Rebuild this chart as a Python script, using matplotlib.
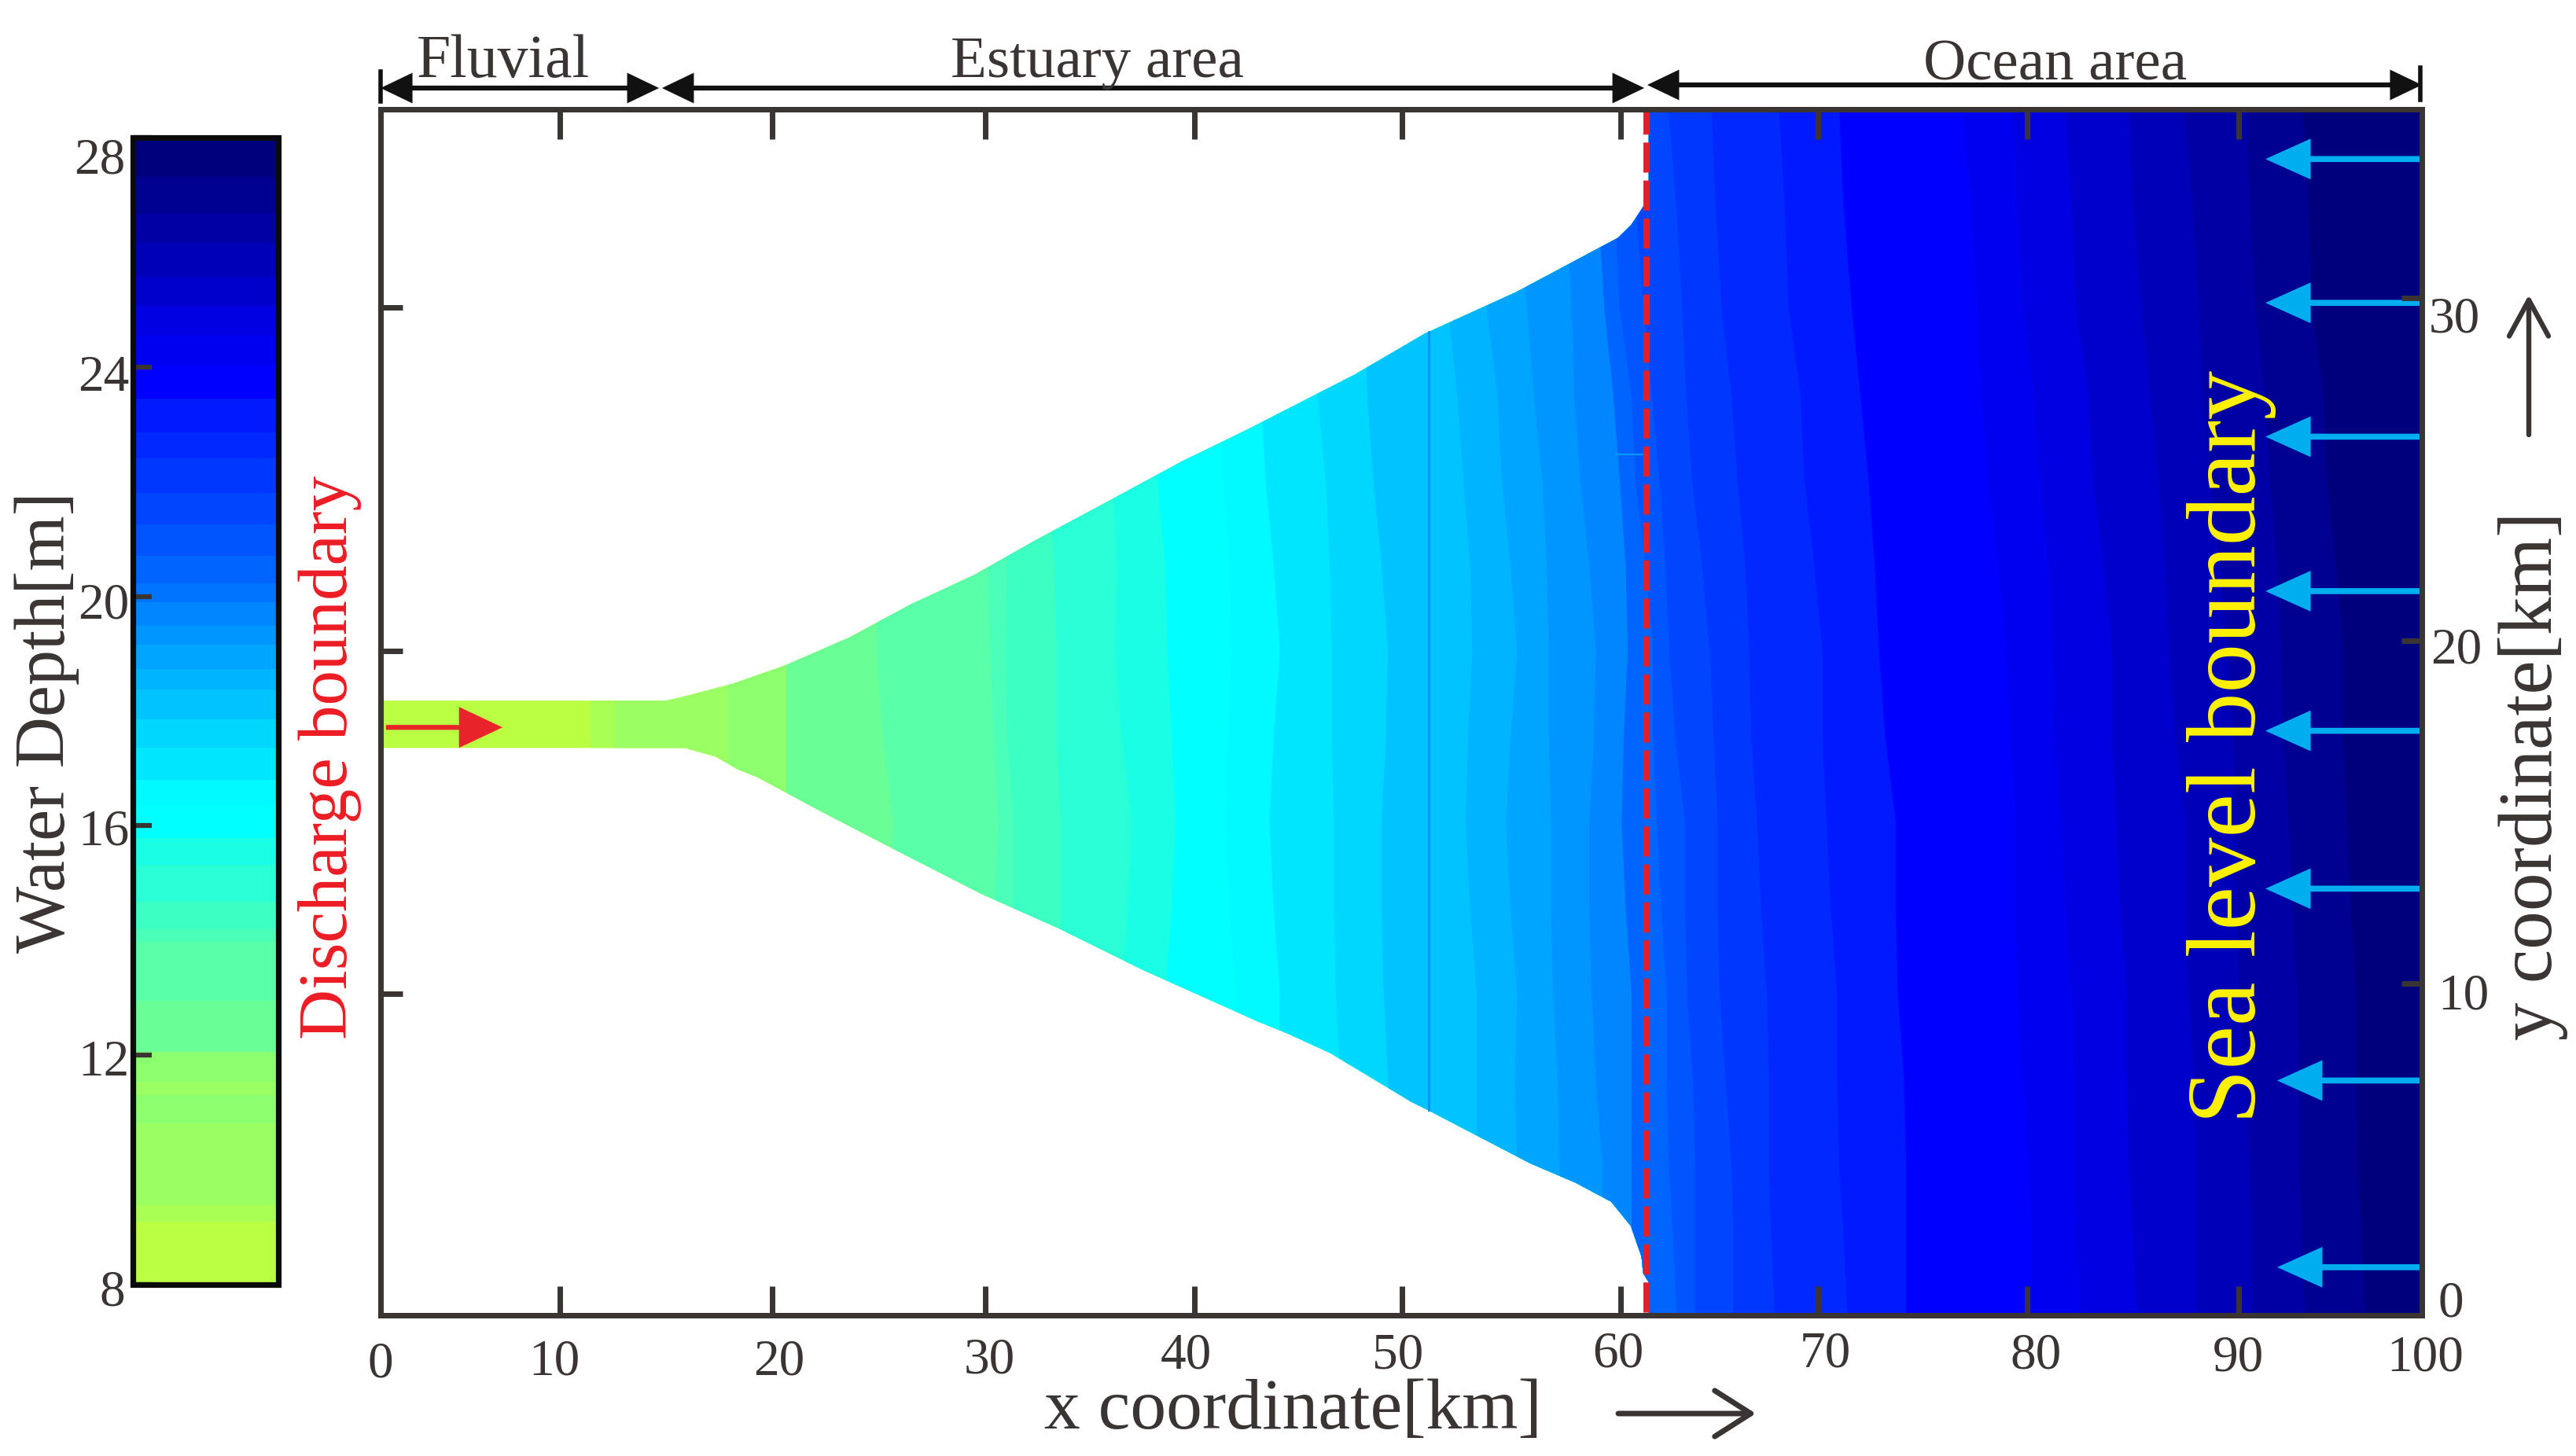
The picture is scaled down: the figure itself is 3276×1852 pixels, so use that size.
import numpy as np
import matplotlib
matplotlib.use("Agg")
import matplotlib.pyplot as plt
from matplotlib.colors import ListedColormap, BoundaryNorm
from matplotlib.cm import ScalarMappable
from matplotlib.patches import Polygon, FancyArrowPatch
from matplotlib.transforms import Affine2D

plt.rcParams['font.family'] = ['Liberation Serif', 'DejaVu Serif']

# ---- colour scale ----
depth_levels = [8, 9.12, 9.41, 10.84, 11.33, 11.57, 12.08, 12.97, 14.01, 14.22, 14.71, 15.35, 15.81,
                16.37, 16.83, 17.39, 17.88, 18.41, 18.76, 19.19, 19.52, 19.93, 20.25, 20.73, 21.28,
                21.83, 22.44, 22.89, 23.48, 24.05, 24.57, 25.1, 25.6, 26.18, 26.7, 27.34, 28]
level_colors = ['#BAFF42', '#AAFF55', '#9BFF64', '#8CFF6E', '#9BFF64', '#8CFF6E', '#69FF96', '#5AFFAA',
                '#4BFFB9', '#3CFFC3', '#28FFD7', '#19FFE6', '#00FFFF', '#00FAFF', '#00E6FF', '#00D7FF',
                '#00C3FF', '#00B4FF', '#00A5FF', '#0096FF', '#0087FF', '#0073FF', '#0064FF', '#0055FF',
                '#0046FF', '#0037FF', '#0028FF', '#0019FF', '#0000FF', '#0000F0', '#0000E1', '#0000CD',
                '#0000B9', '#0000A5', '#000091', '#00007D']
cbar_ticks = [8, 12, 16, 20, 24, 28]

# ---- axis ticks ----
x_ticks_km = [0, 10, 20, 30, 40, 50, 60, 70, 80, 90, 100]
x_tick_px = [484, 712, 982, 1253, 1519, 1783, 2061, 2312, 2578, 2847, 3080]
y_ticks_left = [10, 20, 30]
y_ticks_right = [0.34, 10, 20, 30]
y_labels_right = ['0', '10', '20', '30']

# ---- domain outline (km) ----
top_x = [0, 15.04, 16.11, 18.19, 20.63, 23.66, 26.46, 29.48, 32.52, 35.22, 39.44, 42.5, 47.73, 51.04,
         55.25, 59.9, 60.54, 61.06, 61.43]
top_y = [18.55, 18.55, 18.71, 19.05, 19.58, 20.4, 21.34, 22.21, 23.26, 24.14, 25.53, 26.43, 28.05, 29.24,
         30.46, 32.04, 32.41, 32.86, 33.2]
bot_x = [0, 15.89, 17.33, 18.37, 19.3, 22.33, 26.1, 29.85, 33.5, 37.52, 43.07, 44.5, 46.55, 50.43, 51.22,
         55.86, 57.95, 59.57, 60.52, 61.06, 61.14, 61.43]
bot_y = [17.17, 17.17, 16.92, 16.55, 16.32, 15.31, 14.1, 12.91, 11.92, 10.71, 9.2, 8.85, 8.28, 6.86, 6.61,
         5.07, 4.5, 3.95, 3.24, 2.35, 1.87, 1.6]

# ---- water depth bands: depth of each band and its left edge at mid height (km) ----
band_depth = [8.5, 9.25, 10, 11, 12.5, 13.5, 14.1, 14.5, 15, 15.6, 16.1, 16.6, 17.1, 17.6, 18.1, 18.6, 19,
              19.35, 19.7, 20.5, 21, 21.5, 22.1, 22.7, 23.2, 23.8, 24.3, 24.8, 25.3, 25.9, 26.4, 27, 27.7]
band_left_km = [0, 11.44, 12.6, 17.93, 20.66, 24.87, 30, 30.83, 33.1, 36.2, 38.5, 41.48, 43.6, 46.4, 48.9,
                52.9, 54.75, 56.5, 58.45, 60.04, 61.43, 62.55, 64.4, 66.5, 70, 73, 78.9, 81.2, 83.8,
                86.8, 89.4, 92.3, 95.5]
row_y = [0.6, 3, 5, 7.5, 10, 12.5, 15, 17.5, 20, 22.5, 25, 27.5, 30, 33, 35.8]
shift_inner = [0.4, 0.6, 0.6, 0.4, 0.3, 0.5, 0.6, 0.3, 0.1, 0.1, -0.2, -0.2, 0.0, 0.0, -0.1]
shift_outer = [0.5, 0.6, 0.6, 0.5, 0.4, 0.2, 0.1, 0.2, 0.3, 0.1, -0.2, -0.5, -0.8, -1.1, -1.3]
shift_ocean = [1.3, 1.2, 1.1, 1.0, 0.8, 0.6, 0.5, 0.2, 0.0, -0.3, -0.7, -1.0, -1.4, -1.7, -2.0]
wiggles = [[0.1, 0.0, -0.1, -0.1, 0.1, 0.0, -0.1, 0.0, 0.2, 0.1, 0.0, 0.1, -0.1, 0.0, 0.0],
           [-0.1, 0.0, 0.1, 0.1, 0.0, 0.1, 0.2, 0.0, -0.1, 0.0, 0.1, 0.0, 0.0, -0.1, 0.0],
           [0.0, 0.1, 0.1, -0.1, -0.2, -0.1, 0.0, 0.1, 0.1, 0.0, -0.1, -0.1, 0.1, 0.1, 0.0],
           [0.0, -0.1, -0.1, 0.0, 0.1, 0.0, -0.1, -0.1, 0.0, 0.1, 0.1, 0.1, 0.0, 0.0, 0.1]]

# ---- boundary arrows ----
sea_arrow_y = [34.33, 30.14, 26.24, 21.74, 17.67, 13.07, 7.48, 2.04]
sea_arrow_tip = [91.46, 91.46, 91.46, 91.46, 91.46, 91.46, 92.1, 92.1]
zones = [('Fluvial', 0, 14.67), ('Estuary area', 14.81, 61.2), ('Ocean area', 61.35, 100)]

DARK = '#3a3533'
W, H = 3276, 1852
fig = plt.figure(figsize=(W / 100, H / 100), dpi=100, facecolor='white')

def rect(l, t, r, b):
    return [l / W, 1 - b / H, (r - l) / W, (b - t) / H]

def px(x, y):
    return x / W, 1 - y / H

cmap = ListedColormap(level_colors)
norm = BoundaryNorm(depth_levels, cmap.N)

# main axes
ax = fig.add_axes(rect(484, 139, 3080, 1673))
fwd = lambda v: np.interp(v, x_ticks_km, x_tick_px)
inv = lambda v: np.interp(v, x_tick_px, x_ticks_km)
ax.set_xscale('function', functions=(fwd, inv))
ax.set_xlim(0, 100)
ax.set_ylim(0.64, 35.78)

outline = list(zip(top_x, top_y)) + [(61.43, 35.78), (100, 35.78), (100, 0.64), (61.43, 0.64)] \
    + list(zip(bot_x[::-1], bot_y[::-1]))
clip = Polygon(outline, closed=True, transform=ax.transData)

for i, (d, left) in enumerate(zip(band_depth, band_left_km)):
    if i < 5:
        shift = np.zeros(len(row_y))
    else:
        group = shift_inner if left < 41 else (shift_outer if left < 61.4 else shift_ocean)
        shift = np.array(group) + np.array(wiggles[i % 4])
    xs = np.full(len(row_y), 0.0) if i == 0 else left + shift
    band = ax.fill_betweenx(row_y, xs, 100, color=cmap(norm(d)), lw=0, zorder=1)
    band.set_clip_path(clip)

# thin model artefacts
ax.plot([51.22, 51.22], [6.61, 29.3], color='#0090FF', lw=2, zorder=2)
ax.plot([59.8, 61.1], [25.73, 25.73], color='#0096FF', lw=1.6, zorder=2)

# dashed boundary
ax.plot([61.3, 61.3], [35.78, 0.64], color='#E0202A', lw=5.8, zorder=4,
        linestyle=(0.75, (4.75, 1.25)), dash_capstyle='butt')

# sea-level arrows
for y, tip in zip(sea_arrow_y, sea_arrow_tip):
    ax.annotate('', xy=(tip, y), xytext=(100, y), zorder=5,
                arrowprops=dict(arrowstyle='-|>,head_length=0.8,head_width=0.36', mutation_scale=40,
                                color='#00AEEF', lw=5.5, shrinkA=0, shrinkB=0,
                                joinstyle='miter', capstyle='butt'))
# discharge arrow
ax.annotate('', xy=(6.8, 17.77), xytext=(0.3, 17.77), zorder=5,
            arrowprops=dict(arrowstyle='-|>,head_length=0.85,head_width=0.4', mutation_scale=38,
                            color='#E8232A', lw=4.5, shrinkA=0, shrinkB=0,
                            joinstyle='miter', capstyle='butt'))

# zone arrows above the axes
trans = ax.get_xaxis_transform()
zone_y = [1.0176, 1.0176, 1.0202]
for (name, a, b), yy in zip(zones, zone_y):
    ax.annotate('', xy=(b, yy), xytext=(a, yy), xycoords=trans, textcoords=trans, annotation_clip=False,
                arrowprops=dict(arrowstyle='<|-|>,head_length=0.75,head_width=0.36', mutation_scale=29,
                                color='#111111', lw=4.5, shrinkA=0, shrinkB=0,
                                joinstyle='miter', capstyle='butt'))
ax.plot([0, 0], [1.0065, 1.031], transform=trans, color='#111111', lw=4, clip_on=False)
ax.plot([99.9, 99.9], [1.0076, 1.0345], transform=trans, color='#111111', lw=4, clip_on=False)

# axes styling
for s in ax.spines.values():
    s.set_linewidth(5)
    s.set_color(DARK)
    s.set_zorder(6)
ax.set_xticks(x_ticks_km)
ax.set_xticklabels([str(v) for v in x_ticks_km])
ax.set_yticks(y_ticks_left)
ax.tick_params(axis='x', which='major', direction='in', length=27, width=5, color=DARK, top=True,
               labelsize=47, labelcolor=DARK, pad=18)
ax.tick_params(axis='y', which='major', direction='in', length=20, width=5, color=DARK, left=True,
               labelleft=False)
ax.minorticks_off()

ax2 = ax.twinx()
ax2.set_ylim(0.34, 35.49)
ax2.set_yticks(y_ticks_right)
ax2.set_yticklabels(y_labels_right)
ax2.tick_params(axis='y', direction='in', length=19, width=5, color=DARK, labelsize=47, labelcolor=DARK,
                pad=8)
for s in ax2.spines.values():
    s.set_linewidth(5)
    s.set_color(DARK)
ax2.minorticks_off()

# colour bar
cax = fig.add_axes(rect(169, 175, 354, 1634))
cb = fig.colorbar(ScalarMappable(norm=norm, cmap=cmap), cax=cax, spacing='proportional', ticks=cbar_ticks,
                  drawedges=False)
cb.ax.yaxis.set_ticks_position('left')
cb.ax.set_yticklabels([str(v) for v in cbar_ticks])
cb.ax.tick_params(axis='y', which='major', direction='in', length=17, width=4.5, color=DARK, labelsize=47,
                  labelcolor=DARK, pad=9)
cb.ax.minorticks_off()
cb.outline.set_linewidth(5.2)
cb.outline.set_edgecolor('#0b0b0b')
cb.solids.set_edgecolor('face')

# individual label displacements of the original figure (px right, px up)
x_off = [(0, -8), (-7, -5), (9, -5), (5, -3), (-11, 3), (-5, 3), (-3, 5), (9, 5), (11, 3), (0, 0), (4, 0)]
for lab, (dx, dy) in zip(ax.get_xticklabels(), x_off):
    lab.set_transform(lab.get_transform() + Affine2D().translate(dx, dy))
r_off = [(9, 21), (9, -9), (0, -6), (-2, -21)]
for lab, (dx, dy) in zip(ax2.get_yticklabels(), r_off):
    lab.set_transform(lab.get_transform() + Affine2D().translate(dx, dy))
c_off = [(3, -4), (8, -3), (8, -1), (8, -5), (8, -7), (3, -23)]
for lab, (dx, dy) in zip(cb.ax.get_yticklabels(), c_off):
    lab.set_transform(lab.get_transform() + Affine2D().translate(dx, dy))

# free text
def label(x, y, s, size, color=DARK, rot=0, va='center'):
    fx, fy = px(x, y)
    fig.text(fx, fy, s, fontsize=size, color=color, rotation=rot, ha='center', va=va, zorder=10)

label(640, 98, 'Fluvial', 56, va='baseline')
label(1395, 98, 'Estuary area', 54, va='baseline')
label(2613, 102, 'Ocean area', 54, va='baseline')
label(1644, 1817, 'x coordinate[km]', 66, va='baseline')
label(60, 919, 'Water Depth[m]', 65, rot=90)
label(420, 963, 'Discharge boundary', 64, color='#ED1C24', rot=90)
label(2838, 950, 'Sea level boundary', 90, color='#FFF200', rot=90)
label(3222, 987, 'y coordinate[km]', 70, rot=90)

# direction arrows outside the axes
fig.add_artist(FancyArrowPatch(
    px(2058, 1798), px(2233, 1798), transform=fig.transFigure,
    arrowstyle='->,head_length=0.55,head_width=0.35', mutation_scale=60, color=DARK, lw=5,
    shrinkA=0, shrinkB=0))
fig.add_artist(FancyArrowPatch(
    px(3216, 553), px(3216, 375), transform=fig.transFigure,
    arrowstyle='->,head_length=0.55,head_width=0.3', mutation_scale=60, color=DARK, lw=4.6,
    shrinkA=0, shrinkB=0))

fig.savefig('out.png', dpi=100, facecolor='white')
